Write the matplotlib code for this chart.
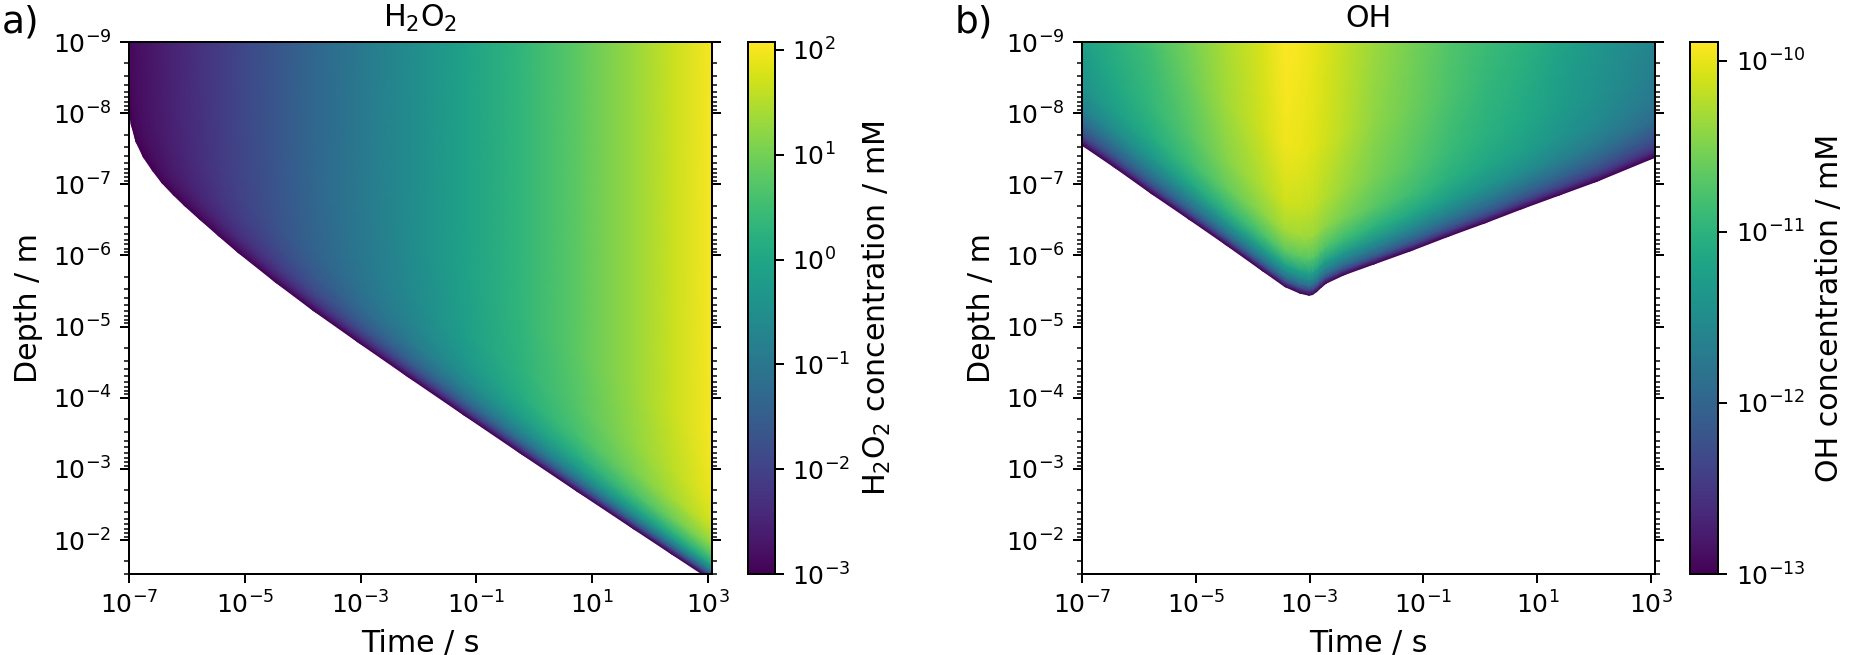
import matplotlib
matplotlib.use("Agg")
import matplotlib.pyplot as plt
import numpy as np
from matplotlib.colors import LogNorm
from matplotlib.ticker import NullLocator, NullFormatter

# values, all as log10 (time in s, depth in m, conc. in mM)

# a) H2O2: penetration front and surface concentration vs time
h2o2_logt = [-7.0, -6.96, -6.88, -6.75, -6.59, -6.43, -6.23, -6.04, -5.78, -5.45, -5.12,
             -4.47, -3.82, -3.04, -2.19, -1.21, -0.24, 0.74, 1.72, 2.37, 3.07]
h2o2_front = [-8.11, -7.84, -7.60, -7.38, -7.19, -7.02, -6.85, -6.70, -6.51, -6.275, -6.045,
              -5.625, -5.228, -4.78, -4.30, -3.755, -3.22, -2.685, -2.155, -1.805, -1.43]
h2o2_surface = [-2.88, -2.86, -2.82, -2.76, -2.68, -2.60, -2.50, -2.41, -2.28, -2.12, -1.96,
                -1.65, -1.33, -0.97, -0.58, -0.12, 0.33, 0.80, 1.30, 1.65, 2.02]
# fraction of the (log) drop towards vmin, per depth row (top row first)
h2o2_drop = [0.0, 0.0, 0.02, 0.06, 0.16, 0.31, 0.44, 0.60, 0.77, 1.0]
h2o2_cticks = [1e-3, 1e-2, 1e-1, 1e0, 1e1, 1e2]

# b) OH
oh_logt = [-7.0, -6.43, -5.78, -5.12, -4.47, -3.82, -3.43, -3.17, -3.01, -2.95, -2.88,
           -2.8, -2.71, -2.39, -1.87, -1.21, -0.56, 0.09, 0.74, 1.39, 2.04, 3.07]
oh_front = [-7.55, -7.24, -6.87, -6.51, -6.15, -5.78, -5.56, -5.47, -5.44, -5.45, -5.49,
            -5.55, -5.61, -5.73, -5.88, -6.07, -6.27, -6.46, -6.66, -6.85, -7.04, -7.38]
oh_surface = [-11.2, -11.0, -10.8, -10.55, -10.28, -10.06, -9.9, -9.93, -9.97, -9.98, -10.0,
              -10.03, -10.06, -10.17, -10.36, -10.54, -10.73, -10.88, -11.0, -11.17, -11.32, -11.58]
oh_drop = [0.0, 0.02, 0.07, 0.13, 0.25, 0.42, 0.53, 0.65, 0.80, 1.0]
oh_cticks = [1e-13, 1e-12, 1e-11, 1e-10]

# depth rows of the mesh, in decades above the front
row_offsets = [2.0, 1.2, 0.8, 0.5, 0.3, 0.2, 0.12, 0.06, 0.0]
top = -9.0


def draw_panel(ax, cax, logt, front, surface, drop, vmin, vmax, cticks, title, clabel):
    logt = np.array(logt)
    front = np.array(front)
    surface = np.array(surface)
    rows = [np.full_like(front, top)] + [np.maximum(front - d, top) for d in row_offsets]
    logy = np.array(rows)
    logc = surface + np.array(drop)[:, None] * (np.log10(vmin) - surface)
    X = np.tile(10.0 ** logt, (len(rows), 1))
    mesh = ax.pcolormesh(X, 10.0 ** logy, 10.0 ** logc, shading="gouraud",
                         cmap="viridis", norm=LogNorm(vmin=vmin, vmax=vmax))
    ax.set_xscale("log")
    ax.set_yscale("log")
    ax.set_xlim(1e-7, 1.17e3)
    ax.set_ylim(3.0e-2, 1e-9)
    ax.set_xticks([1e-7, 1e-5, 1e-3, 1e-1, 1e1, 1e3])
    ax.xaxis.set_minor_locator(NullLocator())
    ax.set_yticks([1e-9, 1e-8, 1e-7, 1e-6, 1e-5, 1e-4, 1e-3, 1e-2])
    ax.yaxis.set_minor_formatter(NullFormatter())
    ax.tick_params(axis="y", which="both", right=True)
    ax.set_xlabel("Time / s", fontsize=12)
    ax.set_ylabel("Depth / m", fontsize=12)
    ax.set_title(title, fontsize=12)
    cb = plt.colorbar(mesh, cax=cax, ticks=cticks)
    cb.ax.minorticks_off()
    cb.set_label(clabel, fontsize=12)
    return mesh


fig = plt.figure(figsize=(1851 / 180, 655 / 180), dpi=180)
ax_a = fig.add_axes([129 / 1851, 81 / 655, 583 / 1851, 532 / 655])
cax_a = fig.add_axes([748 / 1851, 81 / 655, 27 / 1851, 532 / 655])
ax_b = fig.add_axes([1082 / 1851, 81 / 655, 573 / 1851, 532 / 655])
cax_b = fig.add_axes([1690 / 1851, 81 / 655, 28 / 1851, 532 / 655])

draw_panel(ax_a, cax_a, h2o2_logt, h2o2_front, h2o2_surface, h2o2_drop,
           1e-3, 1.19e2, h2o2_cticks, "H$_2$O$_2$", "H$_2$O$_2$ concentration / mM")
draw_panel(ax_b, cax_b, oh_logt, oh_front, oh_surface, oh_drop,
           1e-13, 1.29e-10, oh_cticks, "OH", "OH concentration / mM")

fig.text(0.001, 1 - 33 / 655, "a)", fontsize=15, va="baseline")
fig.text(955 / 1851, 1 - 33 / 655, "b)", fontsize=15, va="baseline")

fig.savefig("out.png", dpi=180)
